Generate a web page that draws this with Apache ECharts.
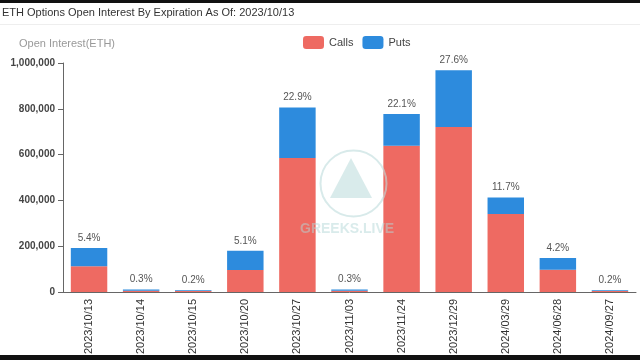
<!DOCTYPE html>
<html><head><meta charset="utf-8">
<script src="https://cdn.jsdelivr.net/npm/echarts@6/dist/echarts.min.js"></script>
<style>html,body{margin:0;padding:0;background:#fff}#c{width:640px;height:360px}</style>
</head><body><div id="c"></div>
<script>
const categories = ['2023/10/13','2023/10/14','2023/10/15','2023/10/20','2023/10/27','2023/11/03','2023/11/24','2023/12/29','2024/03/29','2024/06/28','2024/09/27'];
const calls = [112000, 6000, 4000, 96000, 585000, 6000, 639000, 720000, 341000, 97000, 4000];
const puts  = [80000, 4500, 3500, 84000, 221000, 4500, 138000, 248000, 72000, 51000, 3500];
const pctLabels = ['5.4%','0.3%','0.2%','5.1%','22.9%','0.3%','22.1%','27.6%','11.7%','4.2%','0.2%'];
const yTicks = [0, 200000, 400000, 600000, 800000, 1000000];

const chart = echarts.init(document.getElementById('c'));
const font = 'Liberation Sans, Arial, sans-serif';
chart.setOption({
  animation: false,
  textStyle: {fontFamily: font},
  title: {text: 'ETH Options Open Interest By Expiration As Of: 2023/10/13', left: 2, top: 7, padding: 0,
    textStyle: {fontSize: 11, fontWeight: 'normal', color: '#333', fontFamily: font}},
  legend: {data: ['Calls','Puts'], top: 36, left: 303, padding: 0, itemWidth: 21, itemHeight: 13, itemGap: 9,
    icon: 'roundRect', textStyle: {fontSize: 11, color: '#444'}},
  graphic: [
    {type: 'rect', left: 0, top: 0, shape: {width: 640, height: 3}, style: {fill: '#111'}, z: 100},
    {type: 'rect', left: 0, top: 355, shape: {width: 640, height: 5}, style: {fill: '#111'}, z: 100},
    {type: 'rect', left: 0, top: 24, shape: {width: 640, height: 1}, style: {fill: '#eee'}},
    {type: 'circle', left: 318, top: 148, shape: {r: 33}, style: {fill: 'none', stroke: 'rgba(190,220,220,0.6)', lineWidth: 2}, z: 50},
    {type: 'polygon', shape: {points: [[351,158],[330,198],[372,198]]}, style: {fill: 'rgba(170,210,210,0.45)'}, z: 50},
    {type: 'text', left: 300, top: 222, style: {text: 'GREEKS.LIVE', fontSize: 14, fontWeight: 'bold', fill: 'rgba(180,215,215,0.5)', fontFamily: font}, z: 50}
  ],
  grid: {left: 63, right: 4, top: 63, bottom: 68},
  xAxis: {type: 'category', data: categories,
    axisLine: {lineStyle: {color: '#666'}}, axisTick: {lineStyle: {color: '#666'}},
    axisLabel: {rotate: 90, fontSize: 11, color: '#333', margin: 7}},
  yAxis: {type: 'value', min: 0, max: 1000000, interval: 200000, name: 'Open Interest(ETH)',
    nameTextStyle: {color: '#999', fontSize: 11, align: 'center', padding: [0, 0, 0, 8]}, nameGap: 14,
    axisLine: {show: true, lineStyle: {color: '#666'}}, axisTick: {show: true, lineStyle: {color: '#666'}},
    splitLine: {show: false},
    axisLabel: {fontSize: 10, fontWeight: 'bold', color: '#444',
      formatter: v => yTicks.includes(v) ? v.toLocaleString('en-US') : ''}},
  series: [
    {name: 'Calls', type: 'bar', stack: 'oi', data: calls, barWidth: '70%', itemStyle: {color: '#ee6a62'}},
    {name: 'Puts', type: 'bar', stack: 'oi', data: puts, barWidth: '70%', itemStyle: {color: '#2d8bdd'},
      label: {show: true, position: 'top', fontSize: 10, color: '#555', distance: 5,
        formatter: p => pctLabels[p.dataIndex]}}
  ]
});
</script></body></html>
